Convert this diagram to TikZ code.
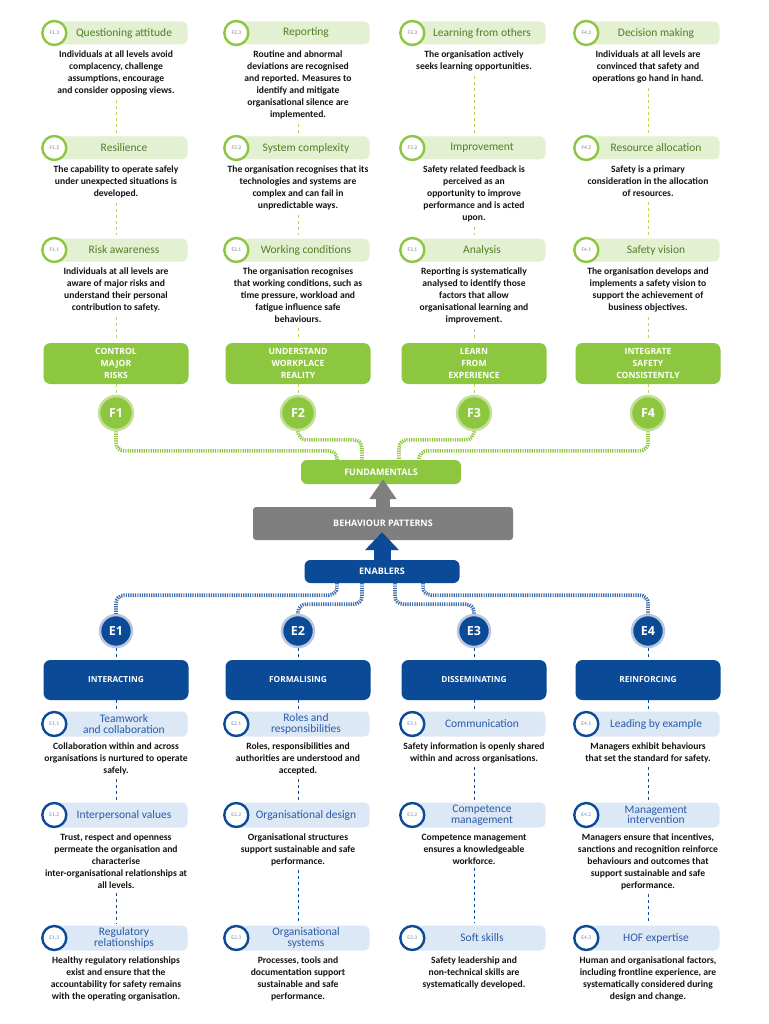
\documentclass[tikz,border=0pt]{standalone}
\usepackage{fontspec}
\setmainfont{Carlito}
\newfontfamily\capsfont{Open Sans}
\usepackage{tikz}
\usetikzlibrary{arrows.meta,calc,positioning}
\definecolor{leafgreen}{HTML}{8DC63F}
\definecolor{softgreen}{HTML}{E3F0D2}
\definecolor{ringgreen}{HTML}{C6E09A}
\definecolor{titlegreen}{HTML}{4F7F26}
\definecolor{linkgreen}{HTML}{BBD45A}
\definecolor{deepblue}{HTML}{0B4A97}
\definecolor{softblue}{HTML}{DCE8F6}
\definecolor{ringblue}{HTML}{B9C8DE}
\definecolor{titleblue}{HTML}{2A5BA6}
\definecolor{midgrey}{HTML}{7F7F7F}
\definecolor{inktext}{HTML}{141414}

\tikzset{
  ghead/.style={rounded corners=5pt,fill=softgreen,minimum width=143pt,minimum height=23pt,inner sep=0pt},
  bhead/.style={rounded corners=5pt,fill=softblue,minimum width=143pt,minimum height=25pt,inner sep=0pt},
  gtitle/.style={text=titlegreen,align=center,inner sep=0pt,font=\fontsize{11.5}{12}\selectfont},
  btitle/.style={text=titleblue,align=center,inner sep=0pt,font=\fontsize{11.5}{10.5}\selectfont},
  gbadge/.style={circle,draw=leafgreen,line width=2.4pt,fill=white,minimum size=24pt,inner sep=0pt,
    text=black!50,font=\fontsize{5.5}{6}\selectfont},
  bbadge/.style={circle,draw=deepblue,line width=2.4pt,fill=white,minimum size=24pt,inner sep=0pt,
    text=titleblue!70,font=\fontsize{5.5}{6}\selectfont},
  body/.style={align=center,inner sep=0pt,text=inktext,font=\bfseries\fontsize{9.6}{12}\selectfont},
  gbox/.style={rounded corners=7pt,fill=leafgreen,minimum width=145pt,minimum height=41pt,text=white,
    align=center,font=\capsfont\bfseries\fontsize{8.6}{12}\selectfont},
  bbox/.style={rounded corners=7pt,fill=deepblue,minimum width=145pt,minimum height=40pt,text=white,
    align=center,font=\capsfont\bfseries\fontsize{8.3}{12}\selectfont},
  fcirc/.style={circle,fill=leafgreen,draw=ringgreen,line width=2.5pt,minimum size=34pt,inner sep=0pt,
    text=white,font=\capsfont\bfseries\fontsize{12.5}{12}\selectfont},
  ecirc/.style={circle,fill=deepblue,draw=ringblue,line width=2.5pt,minimum size=32pt,inner sep=0pt,
    text=white,font=\capsfont\bfseries\fontsize{12.5}{12}\selectfont},
  band/.style={text=white,inner sep=0pt,font=\capsfont\bfseries\fontsize{9}{10}\selectfont},
  glink/.style={draw=linkgreen,dashed,line width=0.9pt,shorten <=5pt,shorten >=3pt},
  blink/.style={draw=deepblue,dashed,line width=0.9pt,shorten <=4pt,shorten >=2pt},
  fdots/.style={draw=leafgreen,line width=3.6pt,dash pattern=on 1.2pt off 1.1pt,rounded corners=8pt},
  edots/.style={draw=deepblue!80,line width=3.6pt,dash pattern=on 1.2pt off 1.1pt,rounded corners=8pt}
}

% header bar with numbered badge: name, x, y, badge, title
\newcommand{\fhead}[5]{%
  \node[ghead] (#1) at (#2,#3) {};
  \node[gtitle] (#1n) at ($(#1.center)+(8,0)$) {#5};
  \node[gbadge] (#1b) at ($(#1.west)+(10,0)$) {#4};}
\newcommand{\ehead}[5]{%
  \node[bhead] (#1) at (#2,#3) {};
  \node[btitle] (#1n) at ($(#1.center)+(8,0)$) {#5};
  \node[bbadge] (#1b) at ($(#1.west)+(10,0)$) {#4};}

\begin{document}
\begin{tikzpicture}[x=1pt,y=-1pt]
  \useasboundingbox[fill=white] (0,0) rectangle (768,1024);

  % fundamentals, top rows
  \fhead{f13}{116}{33}{F1.3}{Questioning attitude}
  \fhead{f23}{298}{33}{F2.3}{Reporting}
  \fhead{f33}{474}{33}{F3.3}{Learning from others}
  \fhead{f43}{648}{33}{F4.3}{Decision making}
  \node[body,below=6pt of f13] (f13t) {Individuals at all levels avoid\\complacency, challenge\\assumptions, encourage\\and consider opposing views.};
  \node[body,below=6pt of f23] (f23t) {Routine and abnormal\\deviations are recognised\\and reported. Measures to\\identify and mitigate\\organisational silence are\\implemented.};
  \node[body,below=6pt of f33] (f33t) {The organisation actively\\seeks learning opportunities.};
  \node[body,below=6pt of f43] (f43t) {Individuals at all levels are\\convinced that safety and\\operations go hand in hand.};

  \fhead{f12}{116}{148}{F1.2}{Resilience}
  \fhead{f22}{298}{148}{F2.2}{System complexity}
  \fhead{f32}{474}{148}{F3.2}{Improvement}
  \fhead{f42}{648}{148}{F4.2}{Resource allocation}
  \node[body,below=6pt of f12] (f12t) {The capability to operate safely\\under unexpected situations is\\developed.};
  \node[body,below=6pt of f22] (f22t) {The organisation recognises that its\\technologies and systems are\\complex and can fail in\\unpredictable ways.};
  \node[body,below=6pt of f32] (f32t) {Safety related feedback is\\perceived as an\\opportunity to improve\\performance and is acted\\upon.};
  \node[body,below=6pt of f42] (f42t) {Safety is a primary\\consideration in the allocation\\of resources.};

  \fhead{f11}{116}{250}{F1.1}{Risk awareness}
  \fhead{f21}{298}{250}{F2.1}{Working conditions}
  \fhead{f31}{474}{250}{F3.1}{Analysis}
  \fhead{f41}{648}{250}{F4.1}{Safety vision}
  \node[body,below=6pt of f11] (f11t) {Individuals at all levels are\\aware of major risks and\\understand their personal\\contribution to safety.};
  \node[body,below=6pt of f21] (f21t) {The organisation recognises\\that working conditions, such as\\time pressure, workload and\\fatigue influence safe\\behaviours.};
  \node[body,below=6pt of f31] (f31t) {Reporting is systematically\\analysed to identify those\\factors that allow\\organisational learning and\\improvement.};
  \node[body,below=6pt of f41] (f41t) {The organisation develops and\\implements a safety vision to\\support the achievement of\\business objectives.};

  \node[gbox] (fb1) at (116,363.5) {CONTROL\\MAJOR\\RISKS};
  \node[gbox] (fb2) at (298,363.5) {UNDERSTAND\\WORKPLACE\\REALITY};
  \node[gbox] (fb3) at (474,363.5) {LEARN\\FROM\\EXPERIENCE};
  \node[gbox] (fb4) at (648,363.5) {INTEGRATE\\SAFETY\\CONSISTENTLY};

  \node[fcirc] (f1) at (116,413) {F1};
  \node[fcirc] (f2) at (298,413) {F2};
  \node[fcirc] (f3) at (474,413) {F3};
  \node[fcirc] (f4) at (648,413) {F4};

  % centre column
  \node[band,fill=leafgreen,rounded corners=6pt,minimum width=160pt,minimum height=24pt] (fund) at (381,472) {FUNDAMENTALS};
  \node[band,fill=midgrey,rounded corners=3pt,minimum width=260pt,minimum height=33pt] (behav) at (383,523.5) {BEHAVIOUR PATTERNS};
  \node[band,fill=deepblue,rounded corners=6pt,minimum width=155pt,minimum height=23pt] (enab) at (382,571.5) {ENABLERS};

  \node[ecirc] (e1) at (116,631) {E1};
  \node[ecirc] (e2) at (298,631) {E2};
  \node[ecirc] (e3) at (474,631) {E3};
  \node[ecirc] (e4) at (648,631) {E4};

  \node[bbox] (eb1) at (116,680) {INTERACTING};
  \node[bbox] (eb2) at (298,680) {FORMALISING};
  \node[bbox] (eb3) at (474,680) {DISSEMINATING};
  \node[bbox] (eb4) at (648,680) {REINFORCING};

  % enablers, bottom rows
  \ehead{e11}{116}{724}{E1.1}{Teamwork\\and collaboration}
  \ehead{e21}{298}{724}{E2.1}{Roles and\\responsibilities}
  \ehead{e31}{474}{724}{E3.1}{Communication}
  \ehead{e41}{648}{724}{E4.1}{Leading by example}
  \node[body,below=6pt of e11] (e11t) {Collaboration within and across\\organisations is nurtured to operate\\safely.};
  \node[body,below=6pt of e21] (e21t) {Roles, responsibilities and\\authorities are understood and\\accepted.};
  \node[body,below=6pt of e31] (e31t) {Safety information is openly shared\\within and across organisations.};
  \node[body,below=6pt of e41] (e41t) {Managers exhibit behaviours\\that set the standard for safety.};

  \ehead{e12}{116}{815}{E1.2}{Interpersonal values}
  \ehead{e22}{298}{815}{E2.2}{Organisational design}
  \ehead{e32}{474}{815}{E3.2}{Competence\\management}
  \ehead{e42}{648}{815}{E4.2}{Management\\intervention}
  \node[body,below=6pt of e12] (e12t) {Trust, respect and openness\\permeate the organisation and\\characterise\\inter-organisational relationships at\\all levels.};
  \node[body,below=6pt of e22] (e22t) {Organisational structures\\support sustainable and safe\\performance.};
  \node[body,below=6pt of e32] (e32t) {Competence management\\ensures a knowledgeable\\workforce.};
  \node[body,below=6pt of e42] (e42t) {Managers ensure that incentives,\\sanctions and recognition reinforce\\behaviours and outcomes that\\support sustainable and safe\\performance.};

  \ehead{e13}{116}{938}{E1.3}{Regulatory\\relationships}
  \ehead{e23}{298}{938}{E2.3}{Organisational\\systems}
  \ehead{e33}{474}{938}{E3.3}{Soft skills}
  \ehead{e43}{648}{938}{E4.3}{HOF expertise}
  \node[body,below=6pt of e13] (e13t) {Healthy regulatory relationships\\exist and ensure that the\\accountability for safety remains\\with the operating organisation.};
  \node[body,below=6pt of e23] (e23t) {Processes, tools and\\documentation support\\sustainable and safe\\performance.};
  \node[body,below=6pt of e33] (e33t) {Safety leadership and\\non-technical skills are\\systematically developed.};
  \node[body,below=6pt of e43] (e43t) {Human and organisational factors,\\including frontline experience, are\\systematically considered during\\design and change.};

  % thin dashed links
  \foreach \i in {1,...,4} {
    \draw[glink] (f\i3t.south) -- (f\i2.north);
    \draw[glink] (f\i2t.south) -- (f\i1.north);
    \draw[glink] (f\i1t.south) -- (fb\i.north);
    \draw[glink,shorten <=0pt,shorten >=0pt] (fb\i.south) -- (f\i.north);
    \draw[blink,shorten <=0pt,shorten >=0pt] (e\i.south) -- (eb\i.north);
    \draw[blink,shorten <=0pt,shorten >=0pt] (eb\i.south) -- (e\i1.north);
    \draw[blink] (e\i1t.south) -- (e\i2.north);
    \draw[blink] (e\i2t.south) -- (e\i3.north);
  }

  % dotted branches
  \draw[fdots] (f1.south) |- ($(fund.north)+(-44,-9)$) -- ($(fund.north)+(-44,0)$);
  \draw[fdots] (f2.south) |- ($(fund.north)+(-19,-20)$) -- ($(fund.north)+(-19,0)$);
  \draw[fdots] (f3.south) |- ($(fund.north)+(18,-20)$) -- ($(fund.north)+(18,0)$);
  \draw[fdots] (f4.south) |- ($(fund.north)+(38,-9)$) -- ($(fund.north)+(38,0)$);
  \draw[edots] ($(enab.south)+(-45,0)$) -- ($(enab.south)+(-45,12)$) -| (e1.north);
  \draw[edots] ($(enab.south)+(-20,0)$) -- ($(enab.south)+(-20,21)$) -| (e2.north);
  \draw[edots] ($(enab.south)+(13,0)$) -- ($(enab.south)+(13,21)$) -| (e3.north);
  \draw[edots] ($(enab.south)+(41,0)$) -- ($(enab.south)+(41,12)$) -| (e4.north);

  % block arrows
  \draw[midgrey,line width=14pt,-{Triangle[width=26pt,length=20pt]},shorten >=-5pt]
    (behav.north) -- (behav.north |- fund.south);
  \draw[deepblue,line width=17pt,-{Triangle[width=33pt,length=18pt]},shorten >=-8pt]
    (enab.north) -- (enab.north |- behav.south);
\end{tikzpicture}
\end{document}
